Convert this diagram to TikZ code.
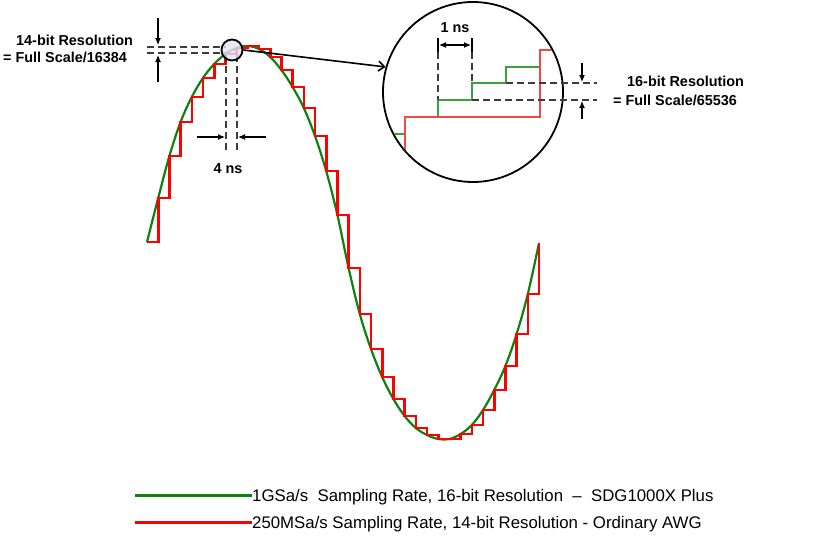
\documentclass[tikz,border=0pt]{standalone}
\definecolor{WaveGreen}{RGB}{16,128,16}
\definecolor{WaveRed}{RGB}{255,0,0}
\definecolor{ZoomGreen}{RGB}{60,160,60}
\definecolor{ZoomRed}{RGB}{240,72,72}
\definecolor{DimGray}{RGB}{60,60,60}
\definecolor{LensFill}{RGB}{226,228,245}
\usepackage{fontspec}
\setmainfont{Liberation Sans}
\usepackage{tikz}
\usetikzlibrary{arrows.meta}

\begin{document}
\begin{tikzpicture}[x=1pt, y=-1pt,
    greenwave/.style={WaveGreen, line width=2.2pt},
    redwave/.style={WaveRed, line width=2.6pt},
    dimline/.style={DimGray, line width=1.1pt, dash pattern=on 7pt off 4pt},
    dimarrow/.style={-{Latex[length=7pt,width=6pt]}, line width=1.1pt},
    boldlabel/.style={font=\fontsize{14.4}{16}\selectfont\bfseries, inner sep=0pt},
    legendtext/.style={font=\fontsize{16.8}{19}\selectfont, anchor=base west, inner sep=0pt}]
  \useasboundingbox (0,0) rectangle (816,541);

  % ideal waveform and the 250MSa/s staircase
  \draw[greenwave] plot[smooth, tension=0.6] coordinates {
    (147,242) (158.2,198) (169.4,156) (180.6,122) (191.8,97) (203,78)
    (214.2,64) (225.4,54) (236.6,48) (247.8,46) (259,49) (270.2,57)
    (281.4,70) (292.6,87) (303.8,108) (315,136) (326.2,171) (337.4,215)
    (348.6,268) (359.8,314) (371,349) (382.2,377) (393.4,399) (404.6,416)
    (415.8,428) (427,435) (438.2,439) (449.4,439) (460.6,434) (471.8,425)
    (483,410) (494.2,390) (505.4,366) (516.6,334) (527.8,294) (539,243)};
  \draw[redwave] (147,242) foreach \v [count=\k] in {198,156,122,97,78,64,54,48,46,49,57,70,87,108,136,171,215,268,314,349,377,399,416,428,435,439,439,434,425,410,390,366,334,294,243} { -| ({147+11.2*\k},\v) };

  % 14-bit step and 4 ns period
  \draw[dimline] (147,47) -- (226,47);
  \draw[dimline] (147,53) -- (226,53);
  \draw[dimline] (226,55) -- (226,153);
  \draw[dimline] (237,55) -- (237,153);
  \draw[dimarrow] (158,18) -- (158,45);
  \draw[dimarrow] (158,82) -- (158,55);
  \draw[dimarrow] (197,137) -- (225,137);
  \draw[dimarrow] (266,137) -- (238,137);
  \node[boldlabel, anchor=base west] (res14) at (16,45) {14-bit Resolution};
  \node[boldlabel, anchor=base west] (res14eq) at (3,62) {= Full Scale/16384};
  \node[boldlabel, anchor=base] (fourns) at (228,173) {4 ns};

  \node[circle, draw, line width=1.8pt, fill=LensFill, fill opacity=0.8,
    minimum size=21pt, inner sep=0pt] (lens) at (232,50) {};

  % magnified view
  \node[circle, draw, line width=1.8pt, minimum size=180pt, inner sep=0pt] (magnify) at (473,92) {};
  \begin{scope}
    \clip (473,92) circle (89);
    \draw[ZoomGreen, line width=2pt] (390,134) -- (405,134);
    \draw[ZoomGreen, line width=2pt] (438,117) |- (472,100) |- (506,83) |- (540,67);
    \draw[ZoomRed, line width=2.2pt] (405,165) -- (405,117) -- (540,117) -- (540,50) -- (560,50);
    \draw[dimline] (438,52) -- (438,100);
    \draw[dimline] (472,52) -- (472,83);
  \end{scope}
  \draw[line width=1.1pt] (438,38) -- (438,52);
  \draw[line width=1.1pt] (472,38) -- (472,52);
  \draw[{Latex[length=7pt,width=6pt]}-{Latex[length=7pt,width=6pt]}, line width=1.1pt] (439,45) -- (471,45);
  \node[boldlabel, anchor=base] (onens) at (455,32) {1 ns};
  \draw[dimline] (506,83) -- (597,83);
  \draw[dimline] (472,100) -- (597,100);
  \draw[dimarrow] (582,63) -- (582,82);
  \draw[dimarrow] (582,119) -- (582,101);
  \node[boldlabel, anchor=base west] (res16) at (627,86) {16-bit Resolution};
  \node[boldlabel, anchor=base west] (res16eq) at (613,105) {= Full Scale/65536};

  \draw[line width=1.6pt, -{Straight Barb[length=6pt,width=10pt]}] (lens.east) -- (magnify.164.6);

  % legend
  \node[legendtext] (keyfast) at (252,501) {1GSa/s\ \ Sampling Rate, 16-bit Resolution\ \ –\ \ SDG1000X Plus};
  \node[legendtext] (keyslow) at (252,528) {250MSa/s Sampling Rate, 14-bit Resolution - Ordinary AWG};
  \coordinate (keyfastend) at (135,495);
  \coordinate (keyslowend) at (135,522);
  \draw[greenwave, line width=3pt] (keyfastend) -- (keyfastend -| keyfast.west);
  \draw[redwave, line width=3pt] (keyslowend) -- (keyslowend -| keyslow.west);
\end{tikzpicture}
\end{document}
